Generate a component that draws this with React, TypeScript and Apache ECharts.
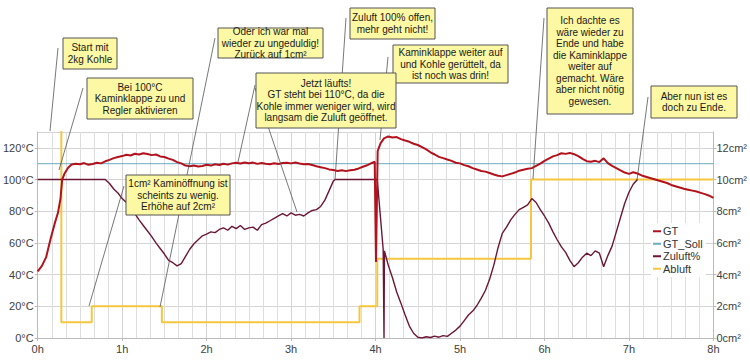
import React, { useEffect, useRef } from "react";
import * as echarts from "echarts";

// time in hours, temperatures in °C
const gtData: [number, number][] = [
  [0, 42], [0.05, 45.5], [0.1, 51], [0.15, 62], [0.2, 72], [0.24, 79], [0.27, 88], [0.29, 100],
  [0.32, 104], [0.36, 107.5], [0.4, 109.5], [0.45, 110], [0.5, 109.6], [0.55, 110.4], [0.6, 109.3],
  [0.65, 109.8], [0.7, 110.6], [0.75, 110.2], [0.8, 111.5], [0.85, 112.4], [0.9, 113.5], [0.95, 114.2],
  [1.0, 114.8], [1.05, 115.6], [1.1, 115.2], [1.15, 116.3], [1.2, 115.8], [1.25, 116.6], [1.3, 116.1],
  [1.35, 115.4], [1.4, 115.8], [1.45, 114.6], [1.5, 114.2], [1.55, 113.2], [1.6, 112.4], [1.65, 111.0],
  [1.7, 110.2], [1.75, 108.8], [1.8, 108.4], [1.85, 108.9], [1.9, 108.2], [1.95, 108.6], [2.0, 109.3],
  [2.05, 108.8], [2.1, 109.6], [2.15, 109.2], [2.2, 110.0], [2.25, 109.4], [2.3, 110.2], [2.35, 110.6],
  [2.4, 110.1], [2.45, 110.8], [2.5, 110.3], [2.55, 110.7], [2.6, 109.9], [2.65, 110.5], [2.7, 110.0],
  [2.75, 109.6], [2.8, 110.3], [2.85, 109.8], [2.9, 110.4], [2.95, 110.6], [3.0, 110.2], [3.05, 110.7],
  [3.1, 110.1], [3.15, 109.6], [3.2, 109.8], [3.25, 109.2], [3.3, 108.4], [3.35, 107.8], [3.4, 107.2],
  [3.45, 106.4], [3.5, 106.0], [3.55, 105.4], [3.6, 105.9], [3.65, 105.3], [3.7, 105.8], [3.75, 106.2],
  [3.8, 107.0], [3.85, 108.1], [3.9, 109.0], [3.95, 110.3], [3.99, 111.2], [4.005, 48], [4.025, 118],
  [4.06, 123], [4.1, 126], [4.15, 127.2], [4.2, 126.5], [4.25, 126.8], [4.3, 125.5], [4.35, 124.6],
  [4.4, 123.8], [4.45, 122.6], [4.5, 121.8], [4.55, 120.4], [4.6, 119.0], [4.65, 117.2], [4.7, 115.8],
  [4.75, 114.3], [4.8, 113.5], [4.85, 112.6], [4.9, 111.8], [4.95, 110.6], [5.0, 110.2], [5.05, 109.1],
  [5.1, 108.4], [5.15, 107.2], [5.2, 106.3], [5.25, 105.4], [5.3, 105.0], [5.35, 104.1], [5.4, 103.2],
  [5.45, 102.4], [5.5, 102.0], [5.55, 102.8], [5.6, 103.6], [5.65, 104.4], [5.7, 105.6], [5.75, 106.2],
  [5.8, 106.8], [5.85, 107.2], [5.9, 108.6], [5.95, 110.0], [6.0, 111.8], [6.05, 113.2], [6.1, 114.6],
  [6.15, 115.4], [6.2, 116.6], [6.25, 116.2], [6.3, 116.8], [6.35, 116.0], [6.4, 114.8], [6.45, 113.0],
  [6.5, 111.6], [6.55, 111.2], [6.6, 111.8], [6.65, 111.0], [6.7, 113.4], [6.75, 110.4], [6.8, 108.6],
  [6.85, 107.2], [6.9, 105.8], [6.95, 104.4], [7.0, 103.6], [7.05, 104.6], [7.1, 103.8], [7.15, 102.6],
  [7.2, 101.8], [7.25, 101.0], [7.3, 100.2], [7.35, 99.4], [7.4, 98.6], [7.45, 97.8], [7.5, 96.6],
  [7.55, 95.8], [7.6, 95.0], [7.65, 94.2], [7.7, 93.6], [7.75, 93.0], [7.8, 92.4], [7.85, 91.6],
  [7.9, 90.8], [7.95, 89.8], [8.0, 88.4],
];

const gtSollData: [number, number][] = [[0, 110], [8, 110]];

const zuluftData: [number, number][] = [
  [0, 100], [0.8, 100], [0.85, 97.5], [0.9, 94], [0.95, 91.5], [1.0, 88], [1.05, 85.5], [1.1, 81],
  [1.15, 78.5], [1.2, 74.5], [1.25, 71], [1.3, 67.5], [1.35, 64], [1.4, 60], [1.45, 56.5], [1.5, 53],
  [1.55, 49], [1.6, 47.5], [1.65, 45.5], [1.7, 47], [1.75, 51.5], [1.8, 56], [1.85, 59.5], [1.9, 62],
  [1.95, 64.5], [2.0, 65.5], [2.05, 67], [2.1, 66.5], [2.15, 68.5], [2.2, 69.5], [2.25, 68], [2.3, 70.5],
  [2.35, 69], [2.4, 71], [2.45, 68.5], [2.5, 69.5], [2.55, 70], [2.6, 68], [2.65, 71.5], [2.7, 72.5],
  [2.75, 74], [2.8, 75.5], [2.85, 77], [2.9, 78.5], [2.95, 77], [3.0, 79], [3.05, 77.5], [3.1, 78],
  [3.15, 77], [3.2, 79], [3.25, 80.5], [3.3, 81], [3.35, 83], [3.4, 87], [3.45, 93], [3.5, 99],
  [3.52, 100], [4.02, 100], [4.09, 56], [4.1, 0], [4.105, 55], [4.15, 46], [4.2, 38], [4.25, 29],
  [4.3, 22], [4.35, 14.5], [4.4, 7.5], [4.45, 3], [4.5, 0.5], [4.55, 0], [4.6, 0.8], [4.65, 0.3],
  [4.7, 1.2], [4.75, 0.5], [4.8, 1.5], [4.85, 1.0], [4.9, 3], [4.95, 5], [5.0, 7.5], [5.05, 11],
  [5.1, 14.5], [5.15, 17], [5.2, 20.5], [5.25, 25], [5.3, 30], [5.35, 37], [5.4, 46], [5.45, 57],
  [5.5, 66], [5.55, 70], [5.6, 74.5], [5.65, 78], [5.7, 81], [5.75, 82.5], [5.8, 84], [5.85, 88],
  [5.9, 85.5], [5.95, 81], [6.0, 77], [6.05, 72.5], [6.1, 67], [6.15, 62], [6.2, 57.5], [6.25, 54],
  [6.3, 49], [6.35, 45], [6.4, 47.5], [6.45, 51], [6.5, 53.5], [6.55, 52], [6.6, 55], [6.65, 53.5],
  [6.7, 45], [6.75, 52], [6.8, 58], [6.85, 67], [6.9, 76], [6.95, 85], [7.0, 92], [7.05, 97], [7.1, 100],
];

// cm² on the right axis
const abluftData: [number, number][] = [
  [0.28, 14], [0.28, 1], [0.64, 1], [0.64, 2], [1.47, 2], [1.47, 1], [3.81, 1], [3.81, 2],
  [4.02, 2], [4.02, 5], [5.84, 5], [5.84, 10], [8, 10],
];

const seriesNames = ["GT", "GT_Soll", "Zuluft%", "Abluft"];

const notes = [
  { text: "Start mit\n2kg Kohle", box: [63, 38, 54, 31], line: [58, 48, 50, 131] },
  { text: "Bei 100°C\nKaminklappe zu und\nRegler aktivieren", box: [87, 78, 106, 41], line: [83, 88, 59, 170] },
  { text: "Oder ich war mal\nwieder zu ungeduldig!\nZurück auf 1cm²", box: [218, 28, 105, 30], line: [215, 38, 160, 307] },
  { text: "Zuluft 100% offen,\nmehr geht nicht!", box: [350, 8, 85, 31], line: [346, 18, 335, 180] },
  { text: "Kaminklappe weiter auf\nund Kohle gerüttelt, da\nist noch was drin!", box: [393, 45, 115, 38], line: [388, 57, 380, 140] },
  { text: "Jetzt läufts!\nGT steht bei 110°C, da die\nKohle immer weniger wird, wird\nlangsam die Zuluft geöffnet.", box: [256, 73, 140, 55], line: [255, 85, 238, 162] },
  { text: "", box: null, line: [255, 88, 297, 212] },
  { text: "1cm² Kaminöffnung ist\nscheints zu wenig.\nErhöhe auf 2cm²", box: [126, 175, 104, 40], line: [124, 186, 89, 306] },
  { text: "Ich dachte es\nwäre wieder zu\nEnde und habe\ndie Kaminklappe\nweiter auf\ngemacht. Wäre\naber nicht nötig\ngewesen.", box: [547, 8, 86, 106], line: [544, 18, 533, 179] },
  { text: "Aber nun ist es\ndoch zu Ende.", box: [651, 86, 86, 32], line: [648, 97, 637, 180] },
];

const FONT = "Liberation Sans, Arial, sans-serif";

export default function App() {
  const ref = useRef<HTMLDivElement>(null);
  useEffect(() => {
    if (!ref.current) return;
    const chart = echarts.init(ref.current, null, { renderer: "svg" });

    const graphics: any[] = [];
    notes.forEach((n) => {
      graphics.push({
        type: "line",
        z: 100,
        silent: true,
        shape: { x1: n.line[0], y1: n.line[1], x2: n.line[2], y2: n.line[3] },
        style: { stroke: "#555", lineWidth: 0.8 },
      });
    });
    notes.forEach((n) => {
      if (!n.box) return;
      const [x, y, w, h] = n.box;
      graphics.push({
        type: "rect",
        z: 101,
        silent: true,
        shape: { x, y, width: w, height: h },
        style: { fill: "#fdf8a4", stroke: "#555", lineWidth: 1 },
      });
      graphics.push({
        type: "text",
        z: 102,
        silent: true,
        x: x + w / 2,
        y: y + h / 2,
        style: {
          text: n.text,
          fill: "#1a1a1a",
          font: `10px ${FONT}`,
          lineHeight: 11.5,
          align: "center",
          verticalAlign: "middle",
        },
      });
    });

    const axisLabelStyle = { color: "#404040", fontSize: 11, fontFamily: FONT };

    chart.setOption({
      animation: false,
      grid: { left: 35, right: 35, top: 132, bottom: 22, containLabel: false },
      legend: {
        data: seriesNames,
        orient: "vertical",
        left: 651,
        top: 223,
        backgroundColor: "#ffffff",
        padding: [2, 3, 2, 2],
        itemWidth: 8,
        itemHeight: 2,
        itemGap: 0,
        icon: "rect",
        textStyle: { color: "#333", fontSize: 11, fontFamily: FONT, lineHeight: 12.5, padding: [0, 0, 0, -3] },
      },
      xAxis: {
        type: "value",
        min: 0,
        max: 8,
        interval: 1,
        axisLine: { show: true, lineStyle: { color: "#bbbbbb" } },
        axisTick: { show: true, length: 3, lineStyle: { color: "#bbbbbb" } },
        axisLabel: { ...axisLabelStyle, formatter: "{value}h", margin: 5 },
        splitLine: { show: true, lineStyle: { color: "#d4d4d4", width: 1 } },
        minorTick: { show: false, splitNumber: 6 },
        minorSplitLine: { show: true, lineStyle: { color: "#dedede", width: 1 } },
      },
      yAxis: [
        {
          type: "value",
          min: 0,
          max: 130,
          interval: 20,
          axisLine: { show: true, lineStyle: { color: "#bbbbbb" } },
          axisTick: { show: true, length: 3, lineStyle: { color: "#bbbbbb" } },
          axisLabel: { ...axisLabelStyle, formatter: "{value}°C", margin: 4, showMaxLabel: false },
          splitLine: { show: true, lineStyle: { color: "#d4d4d4", width: 1 } },
        },
        {
          type: "value",
          min: 0,
          max: 13,
          interval: 2,
          position: "right",
          axisLine: { show: true, lineStyle: { color: "#bbbbbb" } },
          axisTick: { show: true, length: 3, lineStyle: { color: "#bbbbbb" } },
          axisLabel: { ...axisLabelStyle, formatter: "{value}cm²", margin: 3, showMaxLabel: false },
          splitLine: { show: false },
        },
      ],
      series: [
        {
          name: "Abluft",
          type: "line",
          yAxisIndex: 1,
          data: abluftData,
          showSymbol: false,
          silent: true,
          color: "#f6c640",
          lineStyle: { color: "#f6c640", width: 2 },
        },
        {
          name: "GT_Soll",
          type: "line",
          data: gtSollData,
          showSymbol: false,
          silent: true,
          color: "#6aabc2",
          lineStyle: { color: "#6aabc2", width: 1 },
        },
        {
          name: "Zuluft%",
          type: "line",
          data: zuluftData,
          showSymbol: false,
          silent: true,
          color: "#6d1535",
          lineStyle: { color: "#6d1535", width: 1.4 },
        },
        {
          name: "GT",
          type: "line",
          data: gtData,
          showSymbol: false,
          silent: true,
          color: "#b3121c",
          lineStyle: { color: "#b3121c", width: 2 },
        },
      ],
      graphic: graphics,
    });
    return () => chart.dispose();
  }, []);
  return (
    <div
      ref={ref}
      style={{ position: "fixed", left: 0, top: 0, width: 750, height: 360, background: "#ffffff" }}
    />
  );
}
